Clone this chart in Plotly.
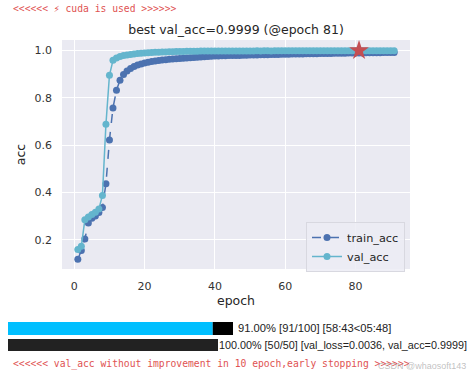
import plotly.graph_objects as go

W, H = 474, 376

epochs = list(range(1, 92))
train_acc = [
    0.117, 0.154, 0.203, 0.270, 0.290, 0.300, 0.315, 0.336, 0.436, 0.621,
    0.757, 0.832, 0.874, 0.898, 0.913, 0.924, 0.932, 0.938, 0.943, 0.947,
    0.950, 0.953, 0.955, 0.957, 0.959, 0.961, 0.963, 0.964, 0.965, 0.966,
    0.967, 0.968, 0.969, 0.970, 0.971, 0.972, 0.973, 0.974, 0.975, 0.976,
    0.976, 0.977, 0.977, 0.978, 0.978, 0.979, 0.979, 0.980, 0.980, 0.981,
    0.981, 0.981, 0.982, 0.982, 0.982, 0.983, 0.983, 0.983, 0.984, 0.984,
    0.984, 0.985, 0.985, 0.985, 0.985, 0.986, 0.986, 0.986, 0.986, 0.987,
    0.987, 0.987, 0.987, 0.988, 0.988, 0.988, 0.988, 0.989, 0.989, 0.989,
    0.989, 0.989, 0.990, 0.990, 0.990, 0.990, 0.990, 0.991, 0.991, 0.991, 0.991,
]
val_acc = [
    0.158, 0.172, 0.284, 0.296, 0.306, 0.316, 0.330, 0.387, 0.688, 0.895,
    0.958, 0.968, 0.974, 0.978, 0.981, 0.983, 0.985, 0.987, 0.988, 0.989,
    0.990, 0.991, 0.992, 0.992, 0.993, 0.993, 0.994, 0.994, 0.995, 0.995,
    0.995, 0.996, 0.996, 0.996, 0.996, 0.997, 0.997, 0.997, 0.997, 0.997,
    0.998, 0.997, 0.998, 0.998, 0.998, 0.998, 0.998, 0.998, 0.998, 0.998,
    0.998, 0.999, 0.998, 0.999, 0.999, 0.998, 0.999, 0.999, 0.999, 0.999,
    0.999, 0.999, 0.999, 0.999, 0.999, 0.999, 0.999, 0.999, 0.999, 0.999,
    0.999, 0.999, 0.999, 0.999, 0.999, 0.999, 0.999, 0.999, 0.999, 0.999,
    0.9999, 0.999, 0.999, 0.999, 0.999, 0.999, 0.999, 0.999, 0.999, 0.999, 0.999,
]
best_epoch = [81]
best_val = [0.9999]

x_ticks = [0, 20, 40, 60, 80]
y_ticks = [0.2, 0.4, 0.6, 0.8, 1.0]

# progress bars
epoch_done, epoch_total = 91, 100
batch_done, batch_total = 50, 50

C_TRAIN = "#4C72B0"
C_VAL = "#64B5CD"
C_STAR = "#C44E52"
RED = "#e05252"
FONT = "DejaVu Sans"
MONO = "DejaVu Sans Mono"
ARIAL = "Liberation Sans"


def px_x(p):
    return p / W


def px_y(p):
    return 1 - p / H


fig = go.Figure()

fig.add_trace(go.Scatter(
    x=epochs, y=train_acc, name="train_acc", mode="lines+markers",
    line=dict(color=C_TRAIN, width=1.5, dash="dash"),
    marker=dict(color=C_TRAIN, size=7),
    xaxis="x", yaxis="y",
))
fig.add_trace(go.Scatter(
    x=epochs, y=val_acc, name="val_acc", mode="lines+markers",
    line=dict(color=C_VAL, width=1.5),
    marker=dict(color=C_VAL, size=7),
    xaxis="x", yaxis="y",
))
fig.add_trace(go.Scatter(
    x=best_epoch, y=best_val, mode="markers", showlegend=False,
    marker=dict(symbol="star", color=C_STAR, size=15, line=dict(width=0)),
    xaxis="x", yaxis="y",
))

# progress bar 1 (epochs)
fig.add_trace(go.Bar(
    x=[epoch_done], y=[0], base=[0], orientation="h", width=1,
    marker=dict(color="#00BFFF", line=dict(width=0)), showlegend=False,
    xaxis="x2", yaxis="y2",
))
fig.add_trace(go.Bar(
    x=[epoch_total - epoch_done], y=[0], base=[epoch_done], orientation="h", width=1,
    marker=dict(color="#000000", line=dict(width=0)), showlegend=False,
    xaxis="x2", yaxis="y2",
))
# progress bar 2 (batches)
fig.add_trace(go.Bar(
    x=[batch_done], y=[0], base=[0], orientation="h", width=1,
    marker=dict(color="#222222", line=dict(width=0)), showlegend=False,
    xaxis="x3", yaxis="y3",
))

hidden = dict(visible=False, showgrid=False, zeroline=False, fixedrange=True)

fig.update_layout(
    width=W, height=H,
    margin=dict(l=0, r=0, t=0, b=0),
    paper_bgcolor="white",
    plot_bgcolor="#EAEAF2",
    barmode="overlay",
    font=dict(family=FONT, color="#333333", size=11),
    title=dict(
        text="best val_acc=0.9999 (@epoch 81)",
        x=236 / W, y=px_y(30), xanchor="center", yanchor="middle",
        xref="paper", yref="paper",
        font=dict(family=FONT, size=12.5, color="#262626"),
    ),
    xaxis=dict(
        domain=[px_x(62), px_x(410)], range=[-3.5, 95.5],
        tickvals=x_ticks, ticks="", showgrid=True, gridcolor="white", gridwidth=1,
        zeroline=False, showline=False, ticklabelstandoff=9,
        tickfont=dict(size=11, color="#333333"),
        title=dict(text="epoch", standoff=2, font=dict(size=12.5, color="#262626")),
        anchor="y",
    ),
    yaxis=dict(
        domain=[px_y(269), px_y(40)], range=[0.076, 1.044],
        tickvals=y_ticks, tickformat=".1f", ticks="", showgrid=True,
        gridcolor="white", gridwidth=1, zeroline=False, showline=False,
        ticklabelstandoff=9,
        tickfont=dict(size=11, color="#333333"),
        title=dict(text="acc", standoff=6, font=dict(size=12.5, color="#262626")),
        anchor="x",
    ),
    xaxis2=dict(domain=[px_x(8), px_x(233)], range=[0, epoch_total], anchor="y2", **hidden),
    yaxis2=dict(domain=[px_y(335), px_y(322)], range=[-0.5, 0.5], anchor="x2", **hidden),
    xaxis3=dict(domain=[px_x(8), px_x(218)], range=[0, batch_total], anchor="y3", **hidden),
    yaxis3=dict(domain=[px_y(351), px_y(339)], range=[-0.5, 0.5], anchor="x3", **hidden),
    legend=dict(
        x=px_x(306), y=px_y(222), xanchor="left", yanchor="top",
        xref="paper", yref="paper",
        bgcolor="rgba(236,236,244,0.85)", bordercolor="#d8d8e0", borderwidth=1,
        font=dict(family=FONT, size=11.3, color="#262626"),
        tracegroupgap=0, itemwidth=30,
    ),
    showlegend=True,
)

annotations = [
    dict(text="&lt;&lt;&lt;&lt;&lt;&lt; ⚡ cuda is used &gt;&gt;&gt;&gt;&gt;&gt;",
         x=px_x(11), y=px_y(9), xanchor="left", yanchor="middle",
         font=dict(family=MONO, size=9.7, color=RED)),
    dict(text=f"{epoch_done / epoch_total * 100:.2f}% [{epoch_done}/{epoch_total}] [58:43&lt;05:48]",
         x=px_x(236), y=px_y(328), xanchor="left", yanchor="middle",
         font=dict(family=ARIAL, size=11.2, color="#222222")),
    dict(text=f"{batch_done / batch_total * 100:.2f}% [{batch_done}/{batch_total}] [val_loss=0.0036, val_acc=0.9999]",
         x=px_x(217), y=px_y(345), xanchor="left", yanchor="middle",
         font=dict(family=ARIAL, size=10.8, color="#222222")),
    dict(text="&lt;&lt;&lt;&lt;&lt;&lt; val_acc without improvement in 10 epoch,early stopping &gt;&gt;&gt;&gt;&gt;&gt;",
         x=px_x(11), y=px_y(364), xanchor="left", yanchor="middle",
         font=dict(family=MONO, size=9.7, color=RED)),
    dict(text="CSDN @whaosoft143",
         x=px_x(468), y=px_y(366), xanchor="right", yanchor="middle",
         font=dict(family=ARIAL, size=9, color="rgba(150,150,150,0.6)")),
]
for a in annotations:
    a.update(xref="paper", yref="paper", showarrow=False)
fig.update_layout(annotations=annotations)

fig.write_html(
    "out.html",
    config={"displayModeBar": False},
    post_script="document.body.style.margin='0';document.body.style.overflow='hidden';",
)
